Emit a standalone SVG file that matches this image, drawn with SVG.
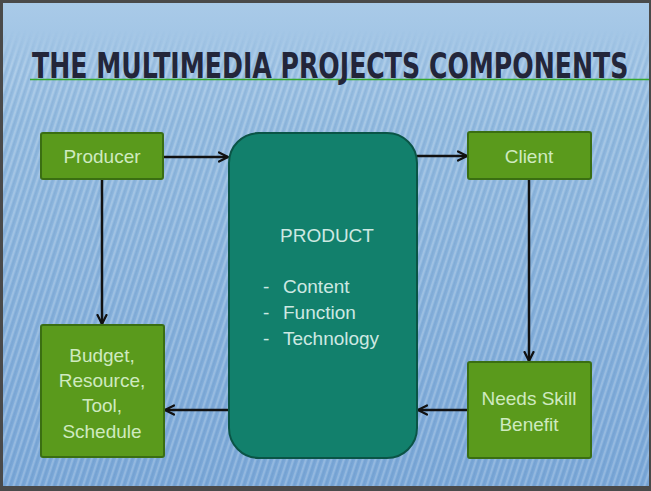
<svg xmlns="http://www.w3.org/2000/svg" width="651" height="491" viewBox="0 0 651 491">
  <defs>
    <linearGradient id="bg" x1="0" y1="0" x2="0" y2="1">
      <stop offset="0" stop-color="#a9cae8"/>
      <stop offset="0.25" stop-color="#93bbe0"/>
      <stop offset="1" stop-color="#7ba8d8"/>
    </linearGradient>
    <pattern id="stripes" width="6" height="6" patternUnits="userSpaceOnUse" patternTransform="rotate(18)">
      <rect x="0" y="0" width="2" height="6" fill="#ffffff" fill-opacity="0.18"/>
      <rect x="3" y="0" width="1.5" height="6" fill="#2a5a90" fill-opacity="0.09"/>
    </pattern>
    <linearGradient id="stripefade" x1="0" y1="0" x2="0" y2="1">
      <stop offset="0" stop-color="#fff" stop-opacity="0"/>
      <stop offset="0.06" stop-color="#fff" stop-opacity="0"/>
      <stop offset="0.14" stop-color="#fff" stop-opacity="1"/>
      <stop offset="1" stop-color="#fff" stop-opacity="1"/>
    </linearGradient>
    <mask id="stripemask">
      <rect x="0" y="0" width="651" height="491" fill="url(#stripefade)"/>
    </mask>
    <marker id="arrow" viewBox="0 0 10 10" refX="9" refY="5" markerWidth="4.5" markerHeight="4.5" orient="auto" markerUnits="strokeWidth">
      <path d="M1,1 L9,5 L1,9" fill="none" stroke="#111" stroke-width="2" stroke-linecap="round" stroke-linejoin="round"/>
    </marker>
    <style>
      .box { fill: #5a9a1c; stroke: #3a6e12; stroke-width: 2; }
      .prod { fill: #12806c; stroke: #0a5446; stroke-width: 2; }
      .lbl { font-family: "Liberation Sans", Arial, sans-serif; font-size: 19px; fill: #cfeac0; text-anchor: middle; }
      .plbl { font-family: "Liberation Sans", Arial, sans-serif; font-size: 19px; fill: #cde8e2; }
      .title { font-family: "DejaVu Sans Condensed", "DejaVu Sans", sans-serif; font-weight: bold; font-size: 35px; fill: #23263a; }
      .conn { fill: none; stroke: #111; stroke-width: 2.5; }
    </style>
  </defs>

  <!-- background -->
  <rect x="0" y="0" width="651" height="491" fill="#4a4a4a"/>
  <rect x="3" y="3" width="646" height="483" fill="url(#bg)"/>
  <rect x="3" y="3" width="646" height="483" fill="url(#stripes)" mask="url(#stripemask)"/>

  <!-- title -->
  <g id="title">
    <line x1="30" y1="79.5" x2="649" y2="79.5" stroke="#34a82a" stroke-width="1.5"/>
    <g transform="translate(32,78) scale(0.8,1)">
      <text class="title" x="0" y="0">THE MULTIMEDIA PROJECTS COMPONENTS</text>
    </g>
  </g>

  <!-- connectors -->
  <g id="connectors">
    <line class="conn" x1="163" y1="157" x2="228" y2="157" marker-end="url(#arrow)"/>
    <line class="conn" x1="417" y1="156" x2="467" y2="156" marker-end="url(#arrow)"/>
    <line class="conn" x1="102" y1="179" x2="102" y2="324" marker-end="url(#arrow)"/>
    <line class="conn" x1="529" y1="179" x2="529" y2="361" marker-end="url(#arrow)"/>
    <line class="conn" x1="467" y1="410" x2="418" y2="410" marker-end="url(#arrow)"/>
    <line class="conn" x1="228" y1="410" x2="165" y2="410" marker-end="url(#arrow)"/>
  </g>

  <!-- nodes -->
  <g id="producer">
    <rect class="box" x="41" y="133" width="122" height="46" rx="2"/>
    <text class="lbl" x="102" y="163">Producer</text>
  </g>

  <g id="product">
    <rect class="prod" x="229" y="133" width="188" height="325" rx="30"/>
    <text class="plbl" x="280" y="242">PRODUCT</text>
    <text class="plbl" x="263" y="293">-</text>
    <text class="plbl" x="283" y="293">Content</text>
    <text class="plbl" x="263" y="319">-</text>
    <text class="plbl" x="283" y="319">Function</text>
    <text class="plbl" x="263" y="345">-</text>
    <text class="plbl" x="283" y="345">Technology</text>
  </g>

  <g id="client">
    <rect class="box" x="468" y="132" width="123" height="47" rx="2"/>
    <text class="lbl" x="529" y="163">Client</text>
  </g>

  <g id="budget">
    <rect class="box" x="41" y="325" width="123" height="132" rx="2"/>
    <text class="lbl" x="102" y="362">Budget,</text>
    <text class="lbl" x="102" y="387">Resource,</text>
    <text class="lbl" x="102" y="412">Tool,</text>
    <text class="lbl" x="102" y="438">Schedule</text>
  </g>

  <g id="needs">
    <rect class="box" x="468" y="362" width="123" height="96" rx="2"/>
    <text class="lbl" x="529" y="405">Needs Skill</text>
    <text class="lbl" x="529" y="431">Benefit</text>
  </g>
</svg>
